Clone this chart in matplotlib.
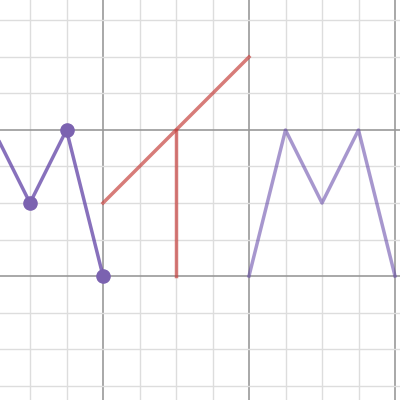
import matplotlib
matplotlib.use("Agg")
import matplotlib.pyplot as plt
import numpy as np

dark_x = [-3, -2, -1, 0]
dark_y = [4, 2, 4, 0]
dot_x = [-2, -1, 0]
dot_y = [2, 4, 0]
red_x = [0, 4]
red_y = [2, 6]
red_vx = [2, 2]
red_vy = [4, 0]
light_x = [4, 5, 6, 7, 8]
light_y = [0, 4, 2, 4, 0]

fig = plt.figure(figsize=(4, 4), dpi=100)
ax = fig.add_axes([0, 0, 1, 1])
x0, x1 = -103/36.5, (400-103)/36.5
y0, y1 = -124/36.5, 276/36.5
ax.set_xlim(x0, x1); ax.set_ylim(y0, y1)
for v in range(-3, 10):
    major = v % 4 == 0
    ax.axvline(v, color='#999999' if major else '#dddddd', lw=1.2 if major else 1, zorder=0)
for v in range(-4, 9):
    major = v % 4 == 0
    ax.axhline(v, color='#999999' if major else '#dddddd', lw=1.2 if major else 1, zorder=0)
ax.plot(dark_x, dark_y, color='#6042a6', alpha=0.75, lw=2.5, solid_capstyle='round')
ax.scatter(dot_x, dot_y, s=90, color='#7b62b0', zorder=5)
ax.plot(red_x, red_y, color='#c74440', alpha=0.7, lw=2.5)
ax.plot(red_vx, red_vy, color='#c74440', alpha=0.7, lw=2.5)
ax.plot(light_x, light_y, color='#6042a6', alpha=0.55, lw=2.5)
ax.axis('off')
fig.savefig('out.png', dpi=100)
